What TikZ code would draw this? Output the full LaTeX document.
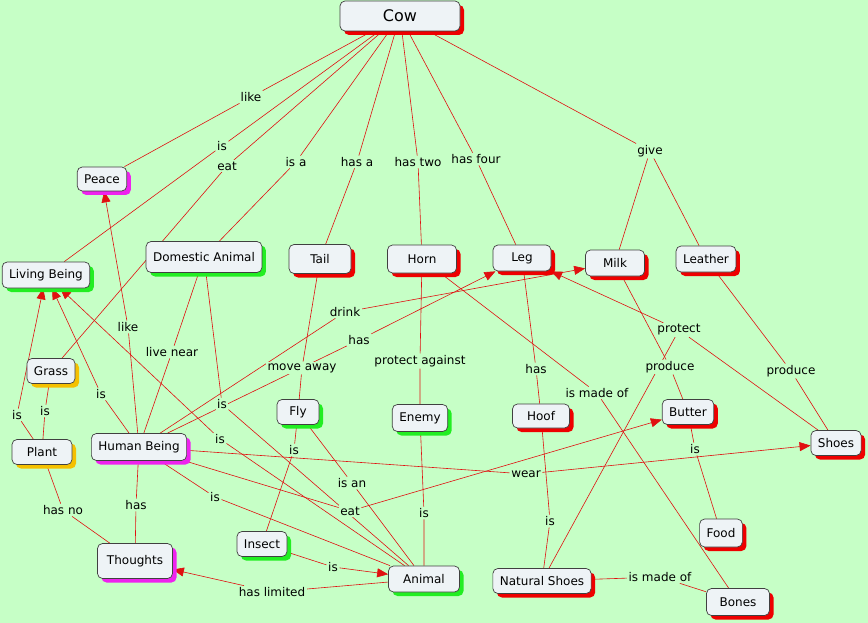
\documentclass[tikz,border=0pt]{standalone}
\usepackage{fontspec}
\setmainfont{DejaVu Sans}
\usetikzlibrary{shadows,arrows.meta}
\definecolor{bgc}{HTML}{C6FFC6}
\definecolor{boxc}{HTML}{EEF3F6}
\definecolor{lnc}{HTML}{E01010}
\definecolor{shr}{HTML}{EE0000}
\definecolor{shg}{HTML}{22EE22}
\definecolor{shm}{HTML}{EE22EE}
\definecolor{shy}{HTML}{F5C000}
\pgfdeclarelayer{back}
\pgfdeclarelayer{bg}
\pgfsetlayers{back,bg,main}
\tikzset{
  cbox/.style={draw=black!75, fill=boxc, rounded corners=5pt, line width=0.7pt,
    font=\fontsize{12}{14}\selectfont, inner xsep=7pt, minimum height=26pt,
    drop shadow={shadow xshift=4pt, shadow yshift=-4pt, fill=#1, opacity=1}},
  lbl/.style={fill=bgc, inner sep=1.5pt, font=\fontsize{12}{14}\selectfont},
  link/.style={draw=lnc, line width=0.6pt},
  arr/.style={link, -{Triangle[length=11pt,width=9pt]}, lnc}
}
\begin{document}
\begin{tikzpicture}[x=1pt,y=-1pt]
\begin{pgfonlayer}{back}
\fill[bgc] (0,0) rectangle (868,623);
\end{pgfonlayer}
\useasboundingbox (0,0) rectangle (868,623);
% concepts
\node[cbox=shr, font=\fontsize{16}{18}\selectfont, minimum width=120pt, minimum height=30pt] (cow) at (400,16) {Cow};
\node[cbox=shm, minimum height=24pt] (peace) at (102,179) {Peace};
\node[cbox=shg] (living) at (46,275) {Living Being};
\node[cbox=shg, minimum height=31pt] (dom) at (204,257) {Domestic Animal};
\node[cbox=shr, minimum height=29pt, minimum width=62pt] (tail) at (320,259) {Tail};
\node[cbox=shr, minimum height=28pt, minimum width=69pt] (horn) at (422,259) {Horn};
\node[cbox=shr, minimum width=58pt] (leg) at (522,258) {Leg};
\node[cbox=shr, minimum width=59pt] (milk) at (615,263) {Milk};
\node[cbox=shr] (leather) at (706,259) {Leather};
\node[cbox=shy, minimum height=25pt] (grass) at (51,371) {Grass};
\node[cbox=shy, minimum height=25pt, minimum width=60pt] (plant) at (42,452) {Plant};
\node[cbox=shm, minimum height=27pt] (human) at (139,447) {Human Being};
\node[cbox=shg, minimum height=25pt, minimum width=42pt] (fly) at (298,412) {Fly};
\node[cbox=shg, minimum height=27pt] (enemy) at (420,418) {Enemy};
\node[cbox=shr, minimum height=24pt, minimum width=57pt] (hoof) at (541,416) {Hoof};
\node[cbox=shr, minimum height=25pt] (butter) at (688,412) {Butter};
\node[cbox=shr, minimum height=25pt] (shoes) at (836,443) {Shoes};
\node[cbox=shm, minimum height=35pt, minimum width=75pt] (thoughts) at (135,561) {Thoughts};
\node[cbox=shg, minimum height=25pt] (insect) at (262,544) {Insect};
\node[cbox=shg, minimum width=71pt] (animal) at (424,579) {Animal};
\node[cbox=shr, minimum height=25pt] (nat) at (542,581) {Natural Shoes};
\node[cbox=shr, minimum height=28pt] (food) at (721,533) {Food};
\node[cbox=shr, minimum height=27pt, minimum width=63pt] (bones) at (738,602) {Bones};
% linking phrases
\node[lbl] (like1) at (251,97) {like};
\node[lbl] (isLB) at (222,146) {is};
\node[lbl] (eatG) at (227,166) {eat};
\node[lbl] (isa) at (296,162) {is a};
\node[lbl] (hasa) at (357,162) {has a};
\node[lbl] (hastwo) at (418,162) {has two};
\node[lbl] (hasfour) at (476,159) {has four};
\node[lbl] (give) at (650,151) {give};
\node[lbl] (like2) at (128,327) {like};
\node[lbl] (livenear) at (172,352) {live near};
\node[lbl] (isHL) at (101,394) {is};
\node[lbl] (isAL) at (220,439) {is};
\node[lbl] (isDA) at (222,404) {is};
\node[lbl] (drink) at (345,312) {drink};
\node[lbl] (hasL) at (359,340) {has};
\node[lbl] (moveaway) at (302,368) {move away};
\node[lbl] (protag) at (420,361) {protect against};
\node[lbl] (ismade1) at (597,393) {is made of};
\node[lbl] (hasH) at (536,369) {has};
\node[lbl] (protect) at (679,330) {protect};
\node[lbl] (produce1) at (670,367) {produce};
\node[lbl] (produce2) at (791,371) {produce};
\node[lbl] (isGP) at (45,411) {is};
\node[lbl] (isPL) at (17,415) {is};
\node[lbl] (isFI) at (294,450) {is};
\node[lbl] (isan) at (352,483) {is an};
\node[lbl] (isHA) at (215,497) {is};
\node[lbl] (eat2) at (350,511) {eat};
\node[lbl] (wear) at (526,474) {wear};
\node[lbl] (isBF) at (695,449) {is};
\node[lbl] (isEA) at (424,513) {is};
\node[lbl] (isHN) at (550,521) {is};
\node[lbl] (hasT) at (136,505) {has};
\node[lbl] (hasno) at (63,510) {has no};
\node[lbl] (isIA) at (333,567) {is};
\node[lbl] (haslim) at (272,592) {has limited};
\node[lbl] (ismade2) at (660,577) {is made of};
\begin{pgfonlayer}{bg}
\draw[link] (cow)--(like1) (like1)--(peace);
\draw[link] (cow)--(isLB) (isLB)--(living);
\draw[link] (cow)--(eatG) (eatG)--(grass);
\draw[link] (cow)--(isa) (isa)--(dom);
\draw[link] (cow)--(hasa) (hasa)--(tail);
\draw[link] (cow)--(hastwo) (hastwo)--(horn);
\draw[link] (cow)--(hasfour) (hasfour)--(leg);
\draw[link] (cow)--(give) (give)--(milk) (give)--(leather);
\draw[link] (human)--(like2); \draw[arr] (like2)--(peace);
\draw[link] (human)--(livenear) (livenear)--(dom);
\draw[link] (human)--(isHL); \draw[arr] (isHL)--(living);
\draw[link] (animal)--(isAL); \draw[arr] (isAL)--(living);
\draw[link] (dom)--(isDA) (isDA)--(animal);
\draw[link] (human)--(drink); \draw[arr] (drink)--(milk);
\draw[link] (human)--(hasL); \draw[arr] (hasL)--(leg);
\draw[link] (tail)--(moveaway) (moveaway)--(fly);
\draw[link] (horn)--(protag) (protag)--(enemy);
\draw[link] (horn)--(ismade1) (ismade1)--(bones);
\draw[link] (leg)--(hasH) (hasH)--(hoof);
\draw[link] (shoes)--(protect) (nat)--(protect); \draw[arr] (protect)--(leg);
\draw[link] (milk)--(produce1) (produce1)--(butter);
\draw[link] (leather)--(produce2) (produce2)--(shoes);
\draw[link] (grass)--(isGP) (isGP)--(plant);
\draw[link] (plant)--(isPL); \draw[arr] (isPL)--(living);
\draw[link] (fly)--(isFI) (isFI)--(insect);
\draw[link] (fly)--(isan) (isan)--(animal);
\draw[link] (human)--(isHA) (isHA)--(animal);
\draw[link] (human)--(eat2); \draw[arr] (eat2)--(butter);
\draw[link] (human)--(wear); \draw[arr] (wear)--(shoes);
\draw[link] (butter)--(isBF) (isBF)--(food);
\draw[link] (enemy)--(isEA) (isEA)--(animal);
\draw[link] (hoof)--(isHN) (isHN)--(nat);
\draw[link] (human)--(hasT) (hasT)--(thoughts);
\draw[link] (plant)--(hasno) (hasno)--(thoughts);
\draw[link] (insect)--(isIA); \draw[arr] (isIA)--(animal);
\draw[link] (animal)--(haslim); \draw[arr] (haslim)--(thoughts);
\draw[link] (nat)--(ismade2) (ismade2)--(bones);
\end{pgfonlayer}
\end{tikzpicture}
\end{document}
